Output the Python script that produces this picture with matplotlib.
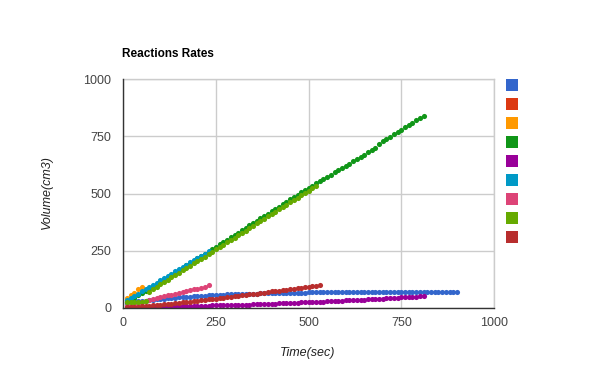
import matplotlib
matplotlib.use("Agg")
import matplotlib.pyplot as plt
from matplotlib.patches import Rectangle

# sample times (seconds)
times = [10, 20, 30, 40, 50, 60, 70, 80, 90, 100,
         110, 120, 130, 140, 150, 160, 170, 180, 190, 200,
         210, 220, 230, 240, 250, 260, 270, 280, 290, 300,
         310, 320, 330, 340, 350, 360, 370, 380, 390, 400,
         410, 420, 430, 440, 450, 460, 470, 480, 490, 500,
         510, 520, 530, 540, 550, 560, 570, 580, 590, 600,
         610, 620, 630, 640, 650, 660, 670, 680, 690, 700,
         710, 720, 730, 740, 750, 760, 770, 780, 790, 800,
         810, 820, 830, 840, 850, 860, 870, 880, 890, 900]

blue = [22, 24, 26, 28, 29, 31, 32, 34, 36, 38,
        40, 41, 43, 44, 46, 47, 48, 49, 50, 51,
        52, 53, 54, 55, 56, 57, 57, 58, 59, 59,
        60, 60, 61, 61, 62, 62, 63, 63, 63, 64,
        64, 64, 65, 65, 65, 66, 66, 66, 66, 67,
        67, 67, 67, 67, 68, 68, 68, 68, 68, 68,
        68, 68, 69, 69, 69, 69, 69, 69, 69, 69,
        69, 69, 69, 70, 70, 70, 70, 70, 70, 70,
        70, 70, 70, 70, 70, 70, 70, 70, 70, 70]
red = []
orange = [44, 56, 66, 80, 92]
green = [24, 34, 44, 54, 64, 74, 84, 95, 105, 115,
         125, 135, 145, 155, 165, 175, 186, 196, 206, 216,
         226, 236, 246, 257, 267, 277, 288, 298, 308, 319,
         329, 339, 350, 360, 370, 381, 391, 401, 412, 422,
         432, 443, 453, 463, 474, 484, 494, 505, 515, 525,
         535, 544, 554, 564, 573, 583, 593, 602, 612, 622,
         631, 641, 651, 661, 670, 680, 690, 700, 718, 728,
         739, 749, 759, 769, 779, 789, 800, 810, 820, 830,
         840]
purple = [0, 1, 1, 2, 2, 3, 3, 4, 4, 4,
          5, 5, 6, 6, 6, 7, 7, 8, 8, 8,
          9, 9, 9, 10, 10, 11, 11, 11, 12, 12,
          13, 13, 14, 14, 15, 15, 16, 17, 17, 18,
          18, 19, 20, 20, 21, 22, 22, 23, 24, 24,
          25, 26, 26, 27, 28, 29, 29, 30, 31, 32,
          32, 33, 34, 35, 35, 36, 37, 38, 39, 40,
          41, 42, 43, 44, 45, 46, 47, 48, 49, 50,
          51]
cyan = [32, 42, 52, 61, 71, 80, 90, 100, 110, 120,
        130, 139, 149, 159, 169, 179, 188, 198, 208, 218,
        228, 237, 247]
pink = [8, 13, 18, 22, 26, 30, 34, 38, 42, 46,
        50, 54, 57, 61, 65, 69, 72, 76, 80, 84,
        88, 92, 98]
lime = [26, 26, 27, 27, 27, 28, 70, 82, 92, 103,
        113, 123, 133, 143, 153, 163, 174, 184, 194, 204,
        214, 224, 234, 245, 255, 265, 276, 286, 296, 307,
        317, 327, 338, 348, 358, 369, 379, 389, 400, 410,
        420, 431, 441, 451, 462, 472, 482, 493, 503, 513,
        523, 533]
darkred = [1, 2, 4, 5, 6, 7, 9, 10, 12, 13,
           15, 16, 18, 20, 21, 23, 25, 26, 28, 30,
           32, 34, 36, 38, 40, 42, 44, 46, 48, 50,
           52, 54, 56, 58, 60, 62, 64, 66, 69, 71,
           73, 75, 77, 79, 81, 83, 85, 88, 90, 92,
           94, 96, 98]

series = [blue, red, orange, green, purple, cyan, pink, lime, darkred]
colors = ["#3366cc", "#dc3912", "#ff9900", "#109618", "#990099",
          "#0099c6", "#dd4477", "#66aa00", "#b82e2e"]

x_ticks = [0, 250, 500, 750, 1000]
y_ticks = [0, 250, 500, 750, 1000]
title = "Reactions Rates"
x_label = "Time(sec)"
y_label = "Volume(cm3)"

plt.rcParams['font.family'] = ['Liberation Sans', 'DejaVu Sans']

W, H = 600, 371
fig = plt.figure(figsize=(W / 100, H / 100), dpi=100)
L, R, T, B = 123.3, 494.0, 79.3, 307.7
ax = fig.add_axes([L / W, (H - B) / H, (R - L) / W, (B - T) / H])

for i, (vals, c) in enumerate(zip(series, colors)):
    if not vals:
        continue
    ax.plot(times[:len(vals)], vals, linestyle='none', marker='o',
            markersize=3.7, markeredgewidth=0, color=c, zorder=3 + i)

ax.set_xlim(0, 1000)
ax.set_ylim(0, 1000)
ax.set_xticks(x_ticks)
ax.set_yticks(y_ticks)
ax.set_xticklabels([str(v) for v in x_ticks])
ax.set_yticklabels([str(v) for v in y_ticks])
ax.grid(True, color="#cccccc", linewidth=1)
ax.set_axisbelow(True)
ax.tick_params(length=0, labelsize=9, labelcolor="#444444")
ax.tick_params(axis='y', pad=8.5)
ax.tick_params(axis='x', pad=6.5)
for s in ['top', 'right']:
    ax.spines[s].set_color("#cccccc")
    ax.spines[s].set_linewidth(1)
for s in ['left', 'bottom']:
    ax.spines[s].set_color("#333333")
    ax.spines[s].set_linewidth(1)
    ax.spines[s].set_zorder(20)

fig.text(122 / W, 1 - 54 / H, title, fontsize=8.5, fontweight='bold',
         color="#000000", ha='left', va='center')
fig.text(308 / W, 1 - 353 / H, x_label, fontsize=9, style='italic',
         color="#222222", ha='center', va='center')
fig.text(46.5 / W, 1 - 192 / H, y_label, fontsize=9, style='italic',
         color="#222222", ha='center', va='center', rotation=90)

# legend swatches (no labels)
for i, c in enumerate(colors):
    cy = 85 + 19 * i
    fig.add_artist(Rectangle((506 / W, 1 - (cy + 6) / H), 12 / W, 12 / H,
                             transform=fig.transFigure, facecolor=c,
                             edgecolor='none'))

fig.savefig("out.png", dpi=100)
